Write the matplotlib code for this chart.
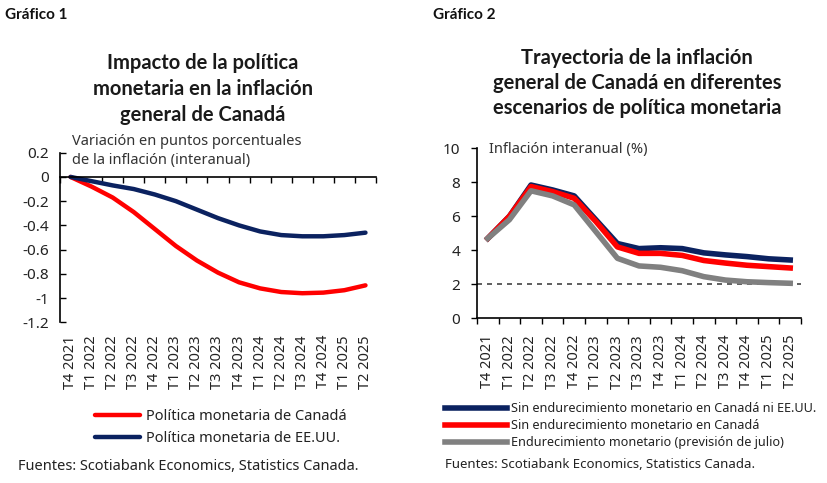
import matplotlib
matplotlib.use("Agg")
import matplotlib.pyplot as plt
import matplotlib.transforms as mtransforms
from matplotlib.ticker import FixedLocator

plt.rcParams["font.family"] = ["Noto Sans", "DejaVu Sans"]
TITLE_FONT = ["Lato", "DejaVu Sans"]

QUARTERS = ["T4 2021", "T1 2022", "T2 2022", "T3 2022", "T4 2022",
            "T1 2023", "T2 2023", "T3 2023", "T4 2023", "T1 2024",
            "T2 2024", "T3 2024", "T4 2024", "T1 2025", "T2 2025"]

# Gráfico 1: impacto en puntos porcentuales
impact_canada = [0.0, -0.08, -0.17, -0.29, -0.43, -0.57, -0.69, -0.79,
                 -0.87, -0.92, -0.95, -0.96, -0.955, -0.935, -0.895]
impact_usa = [0.0, -0.035, -0.07, -0.10, -0.145, -0.20, -0.27, -0.34,
              -0.40, -0.45, -0.48, -0.49, -0.49, -0.48, -0.46]

# Gráfico 2: inflación interanual (%)
infl_no_tightening = [4.7, 6.0, 7.84, 7.55, 7.2, 5.8, 4.4, 4.1, 4.15, 4.1,
                      3.85, 3.73, 3.63, 3.5, 3.43]
infl_no_canada = [4.7, 6.0, 7.75, 7.45, 7.06, 5.7, 4.2, 3.82, 3.82, 3.7,
                  3.4, 3.25, 3.12, 3.04, 2.96]
infl_july = [4.7, 5.8, 7.5, 7.2, 6.67, 5.1, 3.53, 3.08, 3.0, 2.8,
             2.45, 2.25, 2.15, 2.1, 2.06]
TARGET = 2.0

RED = "#ff0000"
NAVY = "#0b2260"
GREY = "#808080"
TXT = "#222222"

W, H = 828, 483
fig = plt.figure(figsize=(W / 100, H / 100), dpi=100)


def px_axes(x0, y_top, x1, y_bot):
    return fig.add_axes([x0 / W, 1 - y_bot / H, (x1 - x0) / W, (y_bot - y_top) / H])


xs = list(range(len(QUARTERS)))
bounds = [i - 0.5 for i in range(len(QUARTERS) + 1)]

# ---------------- Gráfico 1 ----------------
ax1 = px_axes(60, 152.7, 376, 322.3)
ax1.plot(xs, impact_canada, color=RED, lw=3.2, solid_capstyle="round",
         label="Política monetaria de Canadá")
ax1.plot(xs, impact_usa, color=NAVY, lw=3.2, solid_capstyle="round",
         label="Política monetaria de EE.UU.")
ax1.set_xlim(-0.5, len(QUARTERS) - 0.5)
ax1.set_ylim(-1.2, 0.2)
ax1.set_yticks([0.2, 0, -0.2, -0.4, -0.6, -0.8, -1, -1.2])
ax1.set_yticklabels(["0.2", "0", "-0.2", "-0.4", "-0.6", "-0.8", "-1", "-1.2"])
for s in ("top", "right"):
    ax1.spines[s].set_visible(False)
ax1.spines["bottom"].set_position(("data", 0))
ax1.spines["left"].set_linewidth(1.2)
ax1.spines["bottom"].set_linewidth(1.2)
ax1.xaxis.set_major_locator(FixedLocator(bounds))
ax1.set_xticklabels([])
ax1.tick_params(axis="x", direction="out", length=4, width=1.0)
ax1.tick_params(axis="y", direction="in", length=4, width=1.0, labelsize=11,
                labelcolor=TXT, pad=8)
tr1 = mtransforms.blended_transform_factory(ax1.transData, ax1.transAxes)
for i, q in enumerate(QUARTERS):
    ax1.text(i, -0.075, q, transform=tr1, rotation=90, ha="center", va="top",
             fontsize=10.5, color=TXT)
fig.text(72 / W, 1 - 151 / H, "Variación en puntos porcentuales\nde la inflación (interanual)",
         ha="left", va="center", fontsize=10.5, color="#333333", linespacing=1.4)
ax1.legend(loc="upper left", bbox_to_anchor=(95 / W, 1 - 409 / H),
           bbox_transform=fig.transFigure, frameon=False, fontsize=10.5,
           handlelength=3.1, handletextpad=0.4, labelspacing=0.5,
           borderpad=0, borderaxespad=0, labelcolor=TXT)
fig.text(18 / W, 1 - 466 / H, "Fuentes: Scotiabank Economics, Statistics Canada.",
         ha="left", va="center", fontsize=10.5, color=TXT)
fig.text(5 / W, 1 - 15 / H, "Gráfico 1", ha="left", va="center", fontsize=11,
         fontweight="bold", family=TITLE_FONT, color="#111111")
fig.text(203 / W, 1 - 89 / H,
         "Impacto de la política\nmonetaria en la inflación\ngeneral de Canadá",
         ha="center", va="center", fontsize=14.5, fontweight="bold",
         family=TITLE_FONT, color="#1a1a1a", linespacing=1.4)

# ---------------- Gráfico 2 ----------------
ax2 = px_axes(477, 148.3, 801, 318.3)
ax2.axhline(TARGET, color="#444444", lw=1.2, ls=(0, (3, 3)), zorder=1)
ax2.plot(xs, infl_no_tightening, color=NAVY, lw=4, zorder=2,
         label="Sin endurecimiento monetario en Canadá ni EE.UU.")
ax2.plot(xs, infl_no_canada, color=RED, lw=4, zorder=3,
         label="Sin endurecimiento monetario en Canadá")
ax2.plot(xs, infl_july, color=GREY, lw=4, zorder=4,
         label="Endurecimiento monetario (previsión de julio)")
ax2.set_xlim(-0.5, len(QUARTERS) - 0.5)
ax2.set_ylim(0, 10)
ax2.set_yticks([0, 2, 4, 6, 8, 10])
for s in ("top", "right"):
    ax2.spines[s].set_visible(False)
ax2.spines["left"].set_linewidth(1.2)
ax2.spines["bottom"].set_linewidth(1.2)
ax2.set_xticks(xs)
ax2.set_xticklabels(QUARTERS, rotation=90, fontsize=10.5, color=TXT)
ax2.xaxis.set_minor_locator(FixedLocator(bounds))
ax2.tick_params(axis="x", which="major", length=0, pad=12)
ax2.tick_params(axis="x", which="minor", direction="out", length=4, width=1.0)
ax2.tick_params(axis="y", direction="out", length=4, width=1.0, labelsize=11,
                labelcolor=TXT, pad=8)
fig.text(489 / W, 1 - 149 / H, "Inflación interanual (%)", ha="left", va="center",
         fontsize=10.5, color="#333333")
ax2.legend(loc="upper left", bbox_to_anchor=(445 / W, 1 - 402 / H),
           bbox_transform=fig.transFigure, frameon=False, fontsize=9.1,
           handlelength=4.9, handletextpad=0.35, labelspacing=0.33,
           borderpad=0, borderaxespad=0, labelcolor=TXT)
fig.text(445 / W, 1 - 465 / H, "Fuentes: Scotiabank Economics, Statistics Canada.",
         ha="left", va="center", fontsize=9.5, color=TXT)
fig.text(433 / W, 1 - 15 / H, "Gráfico 2", ha="left", va="center", fontsize=11,
         fontweight="bold", family=TITLE_FONT, color="#111111")
fig.text(637 / W, 1 - 83 / H,
         "Trayectoria de la inflación\ngeneral de Canadá en diferentes\nescenarios de política monetaria",
         ha="center", va="center", fontsize=14.5, fontweight="bold",
         family=TITLE_FONT, color="#1a1a1a", linespacing=1.3)

fig.savefig("out.png", dpi=100)
